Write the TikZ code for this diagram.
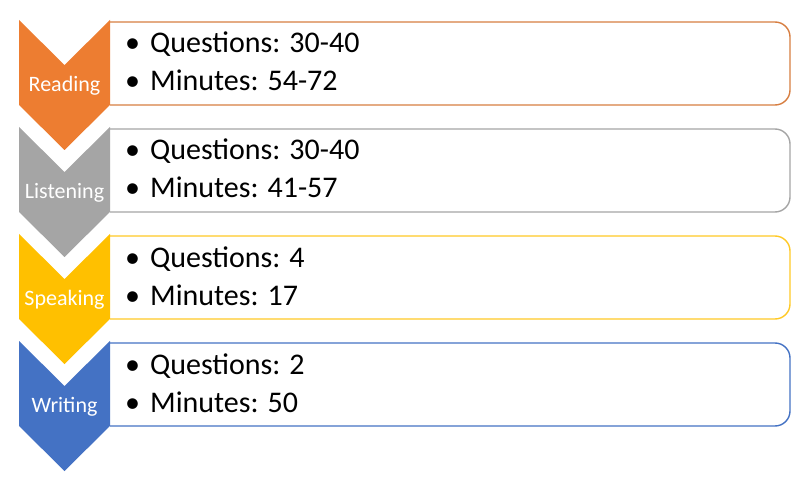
\documentclass[tikz,border=0pt]{standalone}
\usepackage{fontspec}
\setmainfont{Carlito}
\usepackage{tikz}
\usetikzlibrary{positioning}

\definecolor{readcol}{HTML}{ED7D31}
\definecolor{listcol}{HTML}{A5A5A5}
\definecolor{speakcol}{HTML}{FFC000}
\definecolor{writecol}{HTML}{4472C4}

\begin{document}
\begin{tikzpicture}[x=1pt, y=-1pt]
\tikzstyle{panel} = [line width=1.4pt, fill=white]
\tikzstyle{tag} = [text=white, inner sep=0pt, font=\fontsize{22}{26}\selectfont]
\tikzstyle{item} = [anchor=base west, inner sep=0pt, font=\fontsize{30}{36}\selectfont]

\useasboundingbox (0,0) rectangle (804,484);

% boxes, rounded on the right only
\draw [panel, draw=readcol!80!gray] (110,22) -- (775,22) arc[start angle=-90, end angle=0, radius=15] -- (790,90) arc[start angle=0, end angle=90, radius=15] -- (110,105);
\draw [panel, draw=listcol] (110,129) -- (775,129) arc[start angle=-90, end angle=0, radius=15] -- (790,197) arc[start angle=0, end angle=90, radius=15] -- (110,212);
\draw [panel, draw=speakcol!85!white] (110,236) -- (775,236) arc[start angle=-90, end angle=0, radius=15] -- (790,304) arc[start angle=0, end angle=90, radius=15] -- (110,319);
\draw [panel, draw=writecol] (110,343) -- (775,343) arc[start angle=-90, end angle=0, radius=15] -- (790,411) arc[start angle=0, end angle=90, radius=15] -- (110,426);

% chevrons
\fill [readcol] (19,20) -- (64.5,65) -- (110,20) -- (110,105) -- (64.5,150) -- (19,105) -- cycle;
\fill [listcol] (19,127) -- (64.5,172) -- (110,127) -- (110,212) -- (64.5,257) -- (19,212) -- cycle;
\fill [speakcol] (19,234) -- (64.5,279) -- (110,234) -- (110,319) -- (64.5,364) -- (19,319) -- cycle;
\fill [writecol] (19,341) -- (64.5,386) -- (110,341) -- (110,426) -- (64.5,471) -- (19,426) -- cycle;

\node (read) [tag] at (64.5,86) {Reading};
\node (listen) [tag] at (64.5,193) {Listening};
\node (speak) [tag] at (64.5,300) {Speaking};
\node (write) [tag] at (64.5,407) {Writing};

% bullet texts
\node (q1) [item] at (125,53) {\textbullet\hspace{10pt}Questions: 30-40};
\node (m1) [item] at (125,91) {\textbullet\hspace{10pt}Minutes: 54-72};
\node (q2) [item] at (125,160) {\textbullet\hspace{10pt}Questions: 30-40};
\node (m2) [item] at (125,198) {\textbullet\hspace{10pt}Minutes: 41-57};
\node (q3) [item] at (125,267) {\textbullet\hspace{10pt}Questions: 4};
\node (m3) [item] at (125,305) {\textbullet\hspace{10pt}Minutes: 17};
\node (q4) [item] at (125,374) {\textbullet\hspace{10pt}Questions: 2};
\node (m4) [item] at (125,412) {\textbullet\hspace{10pt}Minutes: 50};

\end{tikzpicture}
\end{document}
